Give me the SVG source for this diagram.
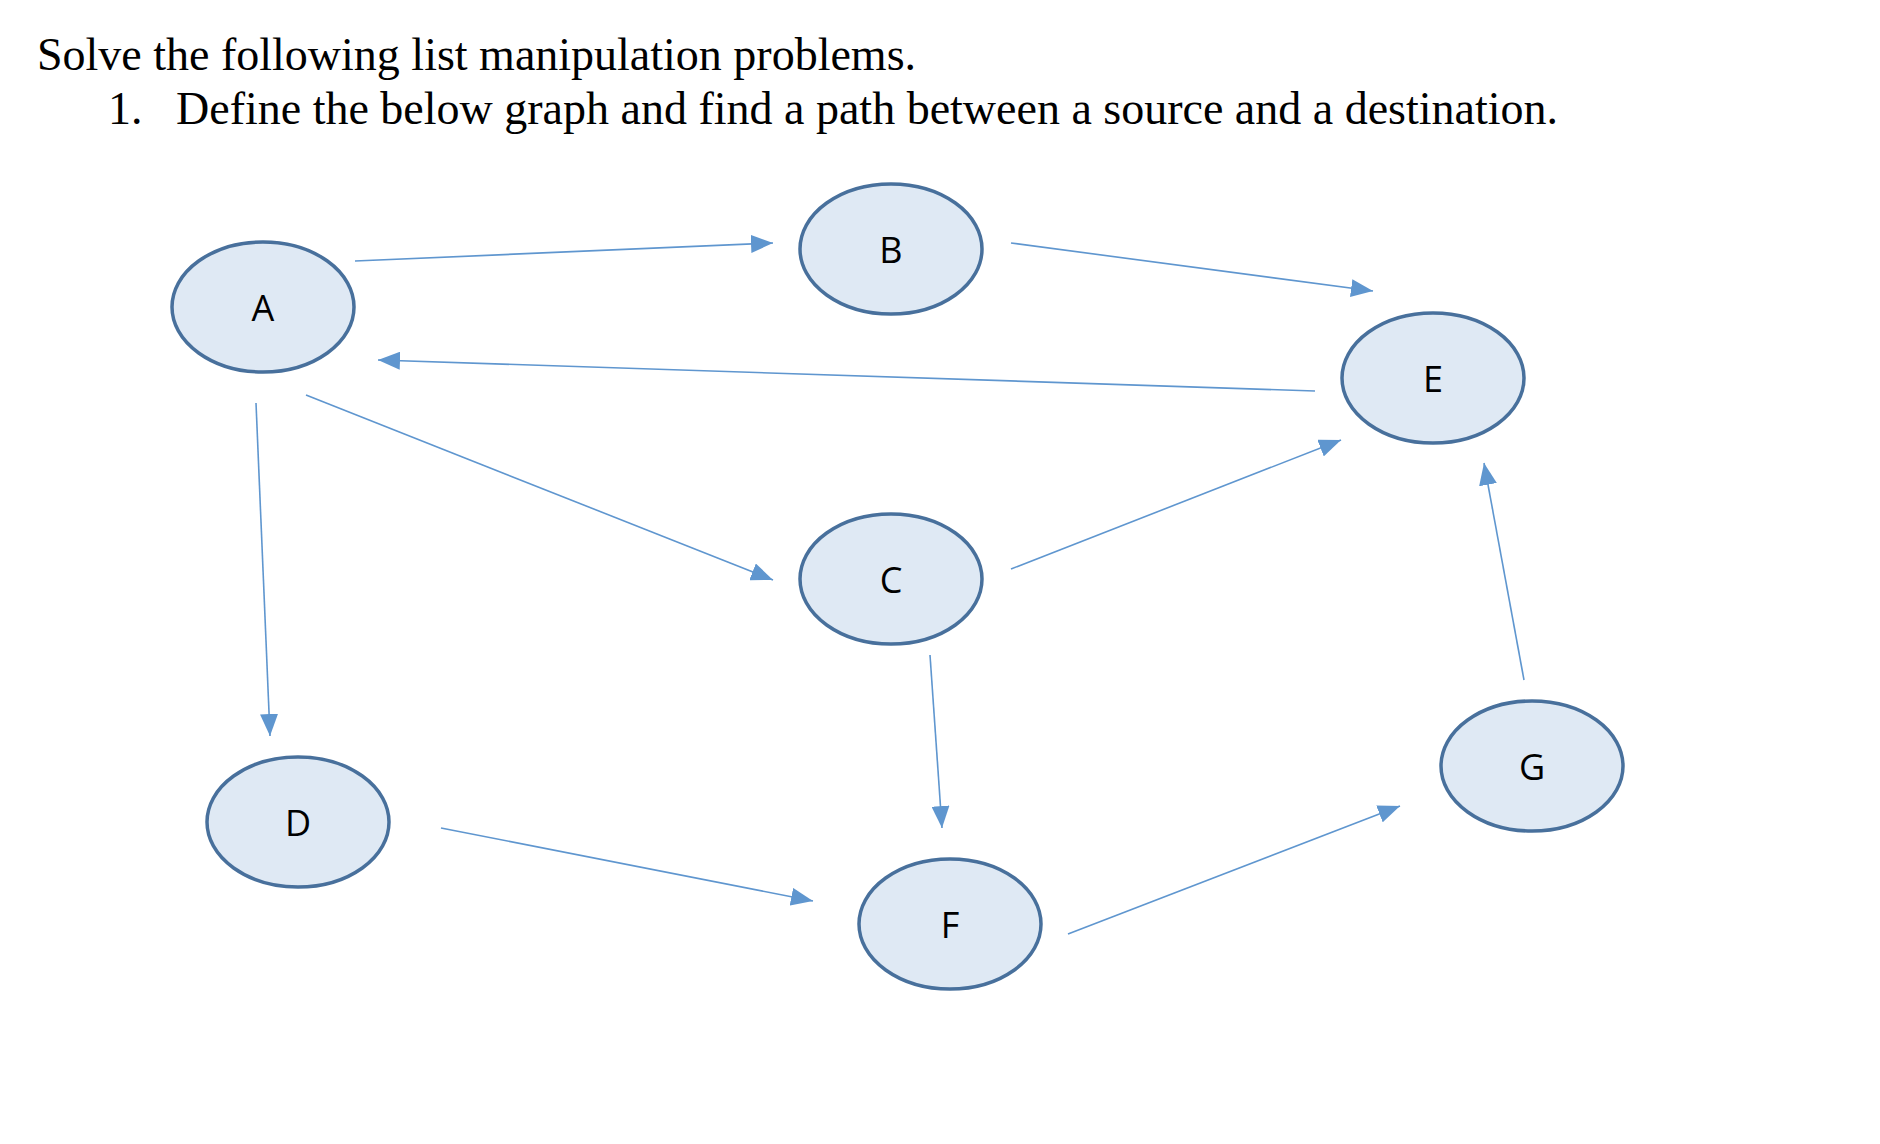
<svg xmlns="http://www.w3.org/2000/svg" width="1880" height="1144" viewBox="0 0 1880 1144">
<style>
.n ellipse{fill:#dfe9f4;stroke:#48709c;stroke-width:3.5}
.n text{font-family:"Open Sans",sans-serif;font-size:36px;fill:#000;text-anchor:middle;dominant-baseline:central}
.t{font-family:"Liberation Serif",serif;font-size:46px;fill:#000}
#edges line{stroke:#5f96cf;stroke-width:1.6;marker-end:url(#ah)}
</style>
<defs><marker id="ah" markerUnits="userSpaceOnUse" markerWidth="24" markerHeight="18" refX="22" refY="9" orient="auto"><path d="M0,0 L22,9 L0,18 z" fill="#5f96cf"/></marker></defs>
<rect width="1880" height="1144" fill="#fff"/>
<text class="t" x="37" y="70">Solve the following list manipulation problems.</text>
<text class="t" x="108" y="124">1.</text>
<text class="t" x="176" y="124">Define the below graph and find a path between a source and a destination.</text>
<g transform="translate(-4,-3)">
<g id="edges">
<line x1="359" y1="264" x2="777" y2="246"/>
<line x1="1015" y1="246" x2="1377" y2="294"/>
<line x1="1319" y1="394" x2="382" y2="363"/>
<line x1="310" y1="398" x2="777" y2="583"/>
<line x1="260" y1="406" x2="274" y2="739"/>
<line x1="1015" y1="572" x2="1345" y2="443"/>
<line x1="934" y1="658" x2="946" y2="831"/>
<line x1="1528" y1="683" x2="1488" y2="466"/>
<line x1="445" y1="831" x2="817" y2="904"/>
<line x1="1072" y1="937" x2="1404" y2="809"/>
</g>
<g id="A" class="n"><ellipse cx="267" cy="310" rx="91" ry="65"/><text x="267" y="310">A</text></g>
<g id="B" class="n"><ellipse cx="895" cy="252" rx="91" ry="65"/><text x="895" y="252">B</text></g>
<g id="E" class="n"><ellipse cx="1437" cy="381" rx="91" ry="65"/><text x="1437" y="381">E</text></g>
<g id="C" class="n"><ellipse cx="895" cy="582" rx="91" ry="65"/><text x="895" y="582">C</text></g>
<g id="D" class="n"><ellipse cx="302" cy="825" rx="91" ry="65"/><text x="302" y="825">D</text></g>
<g id="F" class="n"><ellipse cx="954" cy="927" rx="91" ry="65"/><text x="954" y="927">F</text></g>
<g id="G" class="n"><ellipse cx="1536" cy="769" rx="91" ry="65"/><text x="1536" y="769">G</text></g>
</g>
</svg>
